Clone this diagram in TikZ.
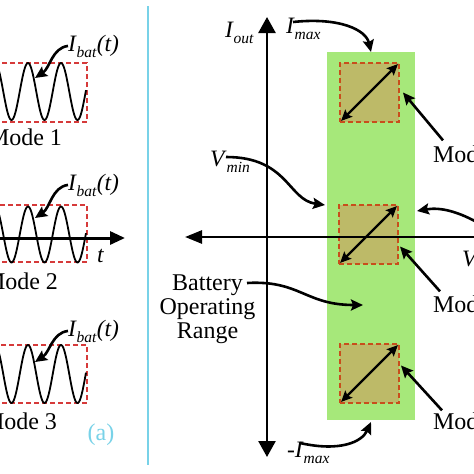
\documentclass[tikz,border=0pt]{standalone}
\usepackage{fontspec}
\setmainfont{Liberation Serif}
\usetikzlibrary{arrows.meta}
\newcommand\ilbl[2]{\textit{#1}\raisebox{-6pt}{\fontsize{15.5}{16}\selectfont\textit{#2}}}
\definecolor{rangegreen}{RGB}{166,232,122}
\definecolor{modefill}{RGB}{189,186,104}
\definecolor{dashred}{RGB}{214,58,58}
\definecolor{dashorange}{RGB}{200,78,28}
\definecolor{sepcyan}{RGB}{120,210,232}
\begin{document}
\begin{tikzpicture}[x=1pt,y=-1pt,
  txt/.style={inner sep=0pt, outer sep=0pt, font=\fontsize{24}{24}\selectfont},
  itxt/.style={inner sep=0pt, outer sep=0pt, font=\fontsize{23.5}{24}\selectfont},
  wave/.style={line width=1.8pt, line join=round},
  lbox/.style={draw=dashred, dash pattern=on 5pt off 3pt, line width=1.5pt, inner sep=0pt, outer sep=0pt, minimum width=117pt, anchor=north east},
  rbox/.style={draw=dashorange, fill=modefill, dash pattern=on 5pt off 3pt, line width=1.8pt, inner sep=0pt, outer sep=0pt, minimum width=59pt, minimum height=59pt},
  callout/.style={line width=2.6pt, -{Stealth[length=12pt,width=11pt,inset=2pt]}},
  darr/.style={line width=2.4pt, {Stealth[length=11pt,width=10pt,inset=2pt]}-{Stealth[length=11pt,width=10pt,inset=2pt]}, shorten <=1.5pt, shorten >=1.5pt},
  axis/.style={line width=2.6pt},
]
\useasboundingbox (0,0) rectangle (474,474);
\fill[white] (0,0) rectangle (474,474);

% ---------- left panel ----------
% Mode 1
\node[lbox, minimum height=59pt] (lb1) at (87,63) {};
\draw[wave] plot[domain=-31:86, samples=160] (\x, {91.5-28.5*cos(10.909*(\x-28))});
\node[itxt, anchor=base west] (ib1) at (68,51) {\ilbl{I}{bat}\textit{(t)}};
\coordinate (w1) at (35,78);
\draw[callout] (ib1.west) .. controls +(-16,2) and +(15,-10) .. (w1);
\node[txt, anchor=base east] (m1) at (62,145) {Mode 1};

% Mode 2
\node[lbox, minimum height=57pt] (lb2) at (87,205) {};
\draw[wave] plot[domain=-31:86, samples=160] (\x, {234.5-28*cos(10.909*(\x-28))});
\coordinate (ts) at (-5,238);
\coordinate (te) at (125,238);
\draw[line width=3pt, -{Triangle[length=15pt,width=13pt]}] (ts) -- (te);
\node[itxt, anchor=base west] (tl) at (97,262) {\textit{t}};
\node[itxt, anchor=base west] (ib2) at (68,190) {\ilbl{I}{bat}\textit{(t)}};
\coordinate (w2) at (35,218);
\draw[callout] (ib2.west) .. controls +(-16,2) and +(15,-10) .. (w2);
\node[txt, anchor=base east] (m2) at (58,289) {Mode 2};

% Mode 3
\node[lbox, minimum height=58pt] (lb3) at (87,345) {};
\draw[wave] plot[domain=-31:86, samples=160] (\x, {374-29*cos(10.909*(\x-28))});
\node[itxt, anchor=base west] (ib3) at (68,336) {\ilbl{I}{bat}\textit{(t)}};
\coordinate (w3) at (35,362);
\draw[callout] (ib3.west) .. controls +(-16,2) and +(15,-10) .. (w3);
\node[txt, anchor=base east] (m3) at (57,429) {Mode 3};

\node[txt, text=sepcyan, anchor=base] (a) at (101,440) {(a)};

% separator
\coordinate (st) at (148,6);
\coordinate (sb) at (148,465);
\draw[sepcyan, line width=2pt] (st) -- (sb);

% ---------- right panel ----------
\node[fill=rangegreen, minimum width=88pt, minimum height=368pt, inner sep=0pt, outer sep=0pt] (rng) at (371,236) {};
\node[rbox] (b1) at (369.5,92.5) {};
\node[rbox] (b2) at (368.5,234.5) {};
\node[rbox] (b3) at (369.5,373.5) {};

\coordinate (vt) at (267,17);
\coordinate (vb) at (267,457);
\coordinate (hr) at (495,237);
\coordinate (hl) at (185,237);
\draw[axis, {Triangle[length=16pt,width=17pt]}-{Triangle[length=16pt,width=17pt]}] (vt) -- (vb);
\draw[axis, -{Triangle[length=17pt,width=13pt]}] (hr) -- (hl);

\draw[darr] (b1.south west) -- (b1.north east);
\draw[darr] (b2.south west) -- (b2.north east);
\draw[darr] (b3.south west) -- (b3.north east);

% axis labels
\node[itxt, anchor=base west] (iout) at (225,37) {\ilbl{I}{out}};
\node[itxt, anchor=base west] (vout) at (462,266) {\ilbl{V}{out}};

% I_max
\node[itxt, anchor=base west] (imax) at (286,33) {\ilbl{I}{max}};
\coordinate (imaxs) at (293,22);
\coordinate (imaxe) at (371,52);
\draw[callout] (imaxs) .. controls (340,17) and (366,30) .. (imaxe);

% -I_max
\node[itxt, anchor=base west] (nimax) at (287,457) {\textit{-}\ilbl{I}{max}};
\coordinate (nimaxs) at (300,443);
\coordinate (nimaxe) at (371,422);
\draw[callout] (nimaxs) .. controls (340,452) and (362,442) .. (nimaxe);

% V_min
\node[itxt, anchor=base west] (vmin) at (210,166) {\ilbl{V}{min}};
\coordinate (vmins) at (226,157);
\coordinate (vmine) at (325,205);
\draw[callout] (vmins) .. controls (288,157) and (288,200) .. (vmine);

% V_max (label outside the picture)
\coordinate (vmaxs) at (482,225);
\coordinate (vmaxe) at (417,211);
\draw[callout] (vmaxs) .. controls (458,211) and (440,207) .. (vmaxe);

% Battery operating range
\node[txt, align=center, anchor=north, font=\fontsize{24}{24}\selectfont] (batt) at (207.5,275) {Battery\\Operating\\Range};
\coordinate (batts) at (247,283);
\coordinate (batte) at (363,305);
\draw[callout] (batts) .. controls (300,280) and (305,305) .. (batte);

% Mode labels right
\node[txt, anchor=base west] (r1) at (433,162) {Mode 1};
\node[txt, anchor=base west] (r2) at (433,312) {Mode 2};
\node[txt, anchor=base west] (r3) at (433,429) {Mode 3};
\draw[callout] ([xshift=10pt,yshift=5pt]r1.north west) -- ([xshift=4pt]b1.east);
\draw[callout] ([xshift=7pt,yshift=4pt]r2.north west) -- ([xshift=2pt,yshift=-12pt]b2.east);
\draw[callout] ([xshift=9pt,yshift=2pt]r3.north west) -- ([xshift=2pt,yshift=8pt]b3.east);
\end{tikzpicture}
\end{document}
